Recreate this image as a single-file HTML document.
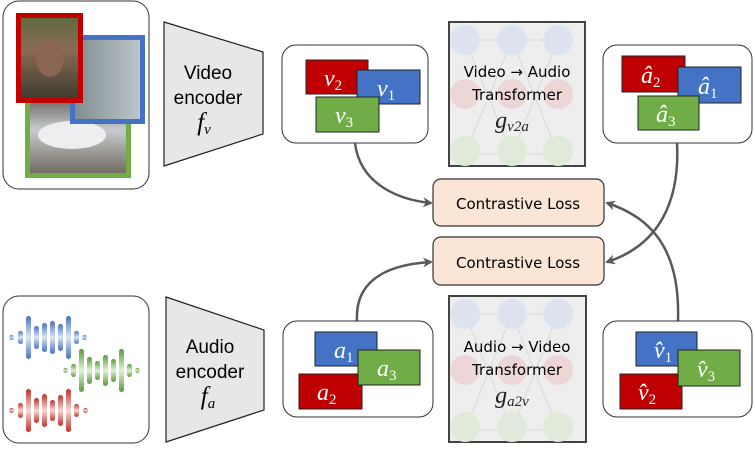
<!DOCTYPE html>
<html><head><meta charset="utf-8"><style>
body{margin:0;background:#fff;}
svg text{font-family:"Liberation Sans",sans-serif;}
.m{font-family:"Liberation Serif",serif;font-style:italic;fill:#fff;}
.c{font-family:"DejaVu Sans","Liberation Sans",sans-serif;}
</style></head><body>
<svg width="755" height="447" viewBox="0 0 755 447" xmlns="http://www.w3.org/2000/svg">
<defs>
<marker id="ar" markerWidth="10" markerHeight="10" refX="8" refY="5" orient="auto" markerUnits="userSpaceOnUse">
<path d="M0,0 L10,5 L0,10 L3,5 z" fill="#595959"/></marker>
<linearGradient id="gb" x1="0" y1="0" x2="0" y2="1"><stop offset="0" stop-color="#4a72c4"/><stop offset="0.5" stop-color="#dce6f5"/><stop offset="1" stop-color="#4a72c4"/></linearGradient>
<linearGradient id="gg" x1="0" y1="0" x2="0" y2="1"><stop offset="0" stop-color="#5a9a3a"/><stop offset="0.5" stop-color="#e2f0d9"/><stop offset="1" stop-color="#5a9a3a"/></linearGradient>
<linearGradient id="gr" x1="0" y1="0" x2="0" y2="1"><stop offset="0" stop-color="#c0312b"/><stop offset="0.5" stop-color="#f6d8d6"/><stop offset="1" stop-color="#c0312b"/></linearGradient>
<linearGradient id="car" x1="0" y1="0" x2="0" y2="1"><stop offset="0" stop-color="#6d6a63"/><stop offset="0.4" stop-color="#c9ccd0"/><stop offset="0.7" stop-color="#9a9893"/><stop offset="1" stop-color="#6f6760"/></linearGradient>
<linearGradient id="bld" x1="0" y1="0" x2="1" y2="0"><stop offset="0" stop-color="#7f8b8e"/><stop offset="1" stop-color="#bfc8cc"/></linearGradient>
<linearGradient id="face" x1="0" y1="0" x2="0" y2="1"><stop offset="0" stop-color="#5b6a3f"/><stop offset="0.4" stop-color="#8b6a55"/><stop offset="1" stop-color="#3b3a2e"/></linearGradient>
</defs>

<rect x="3" y="1" width="146" height="188" rx="16" fill="#fff" stroke="#333" stroke-width="1"/>
<rect x="27.5" y="99.5" width="101" height="76" fill="url(#car)" stroke="#70ad47" stroke-width="5"/>
<ellipse cx="72" cy="135" rx="34" ry="14" fill="#eceef0"/>
<rect x="72.5" y="37.5" width="70" height="84" fill="url(#bld)" stroke="#4472c4" stroke-width="5"/>
<rect x="18.5" y="15.5" width="62" height="85" fill="url(#face)" stroke="#c00000" stroke-width="5"/>
<ellipse cx="50" cy="58" rx="14" ry="19" fill="#8a6552"/>

<polygon points="164,22 263,52 263,134 164,166" fill="#e7e7e7" stroke="#222" stroke-width="1.2"/>
<text x="208" y="79" font-size="19" text-anchor="middle">Video</text>
<text x="208" y="104" font-size="19" text-anchor="middle">encoder</text>
<text x="204" y="130" font-size="25" text-anchor="middle" class="m" style="fill:#000">f<tspan font-size="15" dy="4">v</tspan></text>

<rect x="282" y="45" width="146" height="98" rx="14" fill="#fff" stroke="#333" stroke-width="1"/>
<rect x="306" y="60" width="62" height="34" fill="#c00000" stroke="#222"/>
<text x="324" y="86" font-size="24" class="m">v<tspan font-size="15" dy="4" font-style="normal">2</tspan></text>
<rect x="357" y="70" width="63" height="34" fill="#4472c4" stroke="#222"/>
<text x="377" y="96" font-size="24" class="m">v<tspan font-size="15" dy="4" font-style="normal">1</tspan></text>
<rect x="316" y="97" width="63" height="35" fill="#70ad47" stroke="#222"/>
<text x="335" y="123" font-size="24" class="m">v<tspan font-size="15" dy="4" font-style="normal">3</tspan></text>

<g>
<rect x="449" y="22" width="136" height="144" fill="#eeeeee" stroke="#444" stroke-width="2"/>
<g stroke="#d0d0d0" stroke-width="0.7">
<line x1="465" y1="40" x2="512" y2="154"/><line x1="465" y1="154" x2="512" y2="40"/><line x1="512" y1="40" x2="558" y2="154"/><line x1="512" y1="154" x2="558" y2="40"/>
<line x1="465" y1="40" x2="558" y2="40"/><line x1="465" y1="154" x2="558" y2="154"/></g>
<g fill="#dde3ee"><circle cx="465" cy="40" r="15"/><circle cx="512" cy="40" r="15"/><circle cx="558" cy="40" r="15"/></g>
<g fill="#ecd6d6"><circle cx="465" cy="94" r="15"/><circle cx="512" cy="94" r="15"/><circle cx="558" cy="94" r="15"/></g>
<g fill="#e0eadb"><circle cx="465" cy="151" r="15"/><circle cx="512" cy="151" r="15"/><circle cx="558" cy="151" r="15"/></g>
<text x="517" y="77" font-size="15" text-anchor="middle" class="c">Video → Audio</text>
<text x="517" y="100" font-size="15" text-anchor="middle" class="c">Transformer</text>
<text x="512" y="128" font-size="24" text-anchor="middle" class="m" style="fill:#222">g<tspan font-size="15" dy="3">v2a</tspan></text>
</g>

<rect x="603" y="45" width="149" height="98" rx="14" fill="#fff" stroke="#333" stroke-width="1"/>
<rect x="622" y="56" width="63" height="36" fill="#c00000" stroke="#222"/>
<text x="641" y="83" font-size="24" class="m">â<tspan font-size="15" dy="4" font-style="normal">2</tspan></text>
<rect x="678" y="67" width="63" height="36" fill="#4472c4" stroke="#222"/>
<text x="698" y="94" font-size="24" class="m">â<tspan font-size="15" dy="4" font-style="normal">1</tspan></text>
<rect x="638" y="96" width="61" height="34" fill="#70ad47" stroke="#222"/>
<text x="656" y="122" font-size="24" class="m">â<tspan font-size="15" dy="4" font-style="normal">3</tspan></text>

<rect x="433" y="179" width="171" height="47" rx="8" fill="#fbe5d6" stroke="#333" stroke-width="1.2"/>
<text x="518" y="209" font-size="15" text-anchor="middle" class="c">Contrastive Loss</text>
<rect x="433" y="237" width="171" height="48" rx="8" fill="#fbe5d6" stroke="#333" stroke-width="1.2"/>
<text x="518" y="268" font-size="15" text-anchor="middle" class="c">Contrastive Loss</text>

<g fill="none" stroke="#595959" stroke-width="2.5" marker-end="url(#ar)">
<path d="M355,143 C360,185 400,200 431,203"/>
<path d="M677,143 C680,200 660,245 607,262"/>
<path d="M357,321 C355,285 380,265 431,262"/>
<path d="M678,321 C680,260 660,220 607,203"/>
</g>

<rect x="3" y="296" width="146" height="147" rx="16" fill="#fff" stroke="#333" stroke-width="1"/>
<g fill="url(#gb)">
<rect x="9" y="335" width="5" height="5" rx="2.5"/><rect x="18" y="331" width="5" height="13" rx="2.5"/><rect x="26" y="316" width="5" height="43" rx="2.5"/><rect x="34" y="326" width="5" height="23" rx="2.5"/><rect x="42" y="323" width="5" height="29" rx="2.5"/><rect x="50" y="321" width="5" height="33" rx="2.5"/><rect x="58" y="324" width="5" height="27" rx="2.5"/><rect x="66" y="316" width="5" height="43" rx="2.5"/><rect x="74" y="331" width="5" height="13" rx="2.5"/><rect x="82" y="335" width="5" height="5" rx="2.5"/></g>
<g fill="url(#gg)">
<rect x="63" y="368" width="5" height="5" rx="2.5"/><rect x="71" y="364" width="5" height="13" rx="2.5"/><rect x="79" y="349" width="5" height="43" rx="2.5"/><rect x="87" y="357" width="5" height="27" rx="2.5"/><rect x="95" y="361" width="5" height="19" rx="2.5"/><rect x="103" y="355" width="5" height="31" rx="2.5"/><rect x="111" y="359" width="5" height="23" rx="2.5"/><rect x="119" y="349" width="5" height="43" rx="2.5"/><rect x="127" y="364" width="5" height="13" rx="2.5"/><rect x="135" y="368" width="5" height="5" rx="2.5"/></g>
<g fill="url(#gr)">
<rect x="9" y="408" width="5" height="5" rx="2.5"/><rect x="18" y="403" width="5" height="15" rx="2.5"/><rect x="26" y="389" width="5" height="43" rx="2.5"/><rect x="34" y="398" width="5" height="25" rx="2.5"/><rect x="42" y="394" width="5" height="33" rx="2.5"/><rect x="50" y="400" width="5" height="21" rx="2.5"/><rect x="58" y="395" width="5" height="31" rx="2.5"/><rect x="66" y="389" width="5" height="43" rx="2.5"/><rect x="74" y="404" width="5" height="13" rx="2.5"/><rect x="83" y="408" width="5" height="5" rx="2.5"/></g>

<polygon points="166,297 264,330 264,410 166,442" fill="#e7e7e7" stroke="#222" stroke-width="1.2"/>
<text x="210" y="353" font-size="19" text-anchor="middle">Audio</text>
<text x="210" y="378" font-size="19" text-anchor="middle">encoder</text>
<text x="208" y="404" font-size="25" text-anchor="middle" class="m" style="fill:#000">f<tspan font-size="15" dy="4">a</tspan></text>

<rect x="283" y="321" width="150" height="96" rx="14" fill="#fff" stroke="#333" stroke-width="1"/>
<rect x="315" y="332" width="62" height="34" fill="#4472c4" stroke="#222"/>
<text x="334" y="358" font-size="24" class="m">a<tspan font-size="15" dy="4" font-style="normal">1</tspan></text>
<rect x="299" y="374" width="63" height="35" fill="#c00000" stroke="#222"/>
<text x="317" y="400" font-size="24" class="m">a<tspan font-size="15" dy="4" font-style="normal">2</tspan></text>
<rect x="358" y="350" width="62" height="35" fill="#70ad47" stroke="#222"/>
<text x="377" y="376" font-size="24" class="m">a<tspan font-size="15" dy="4" font-style="normal">3</tspan></text>

<g>
<rect x="449" y="296" width="137" height="146" fill="#eeeeee" stroke="#444" stroke-width="2"/>
<g stroke="#d0d0d0" stroke-width="0.7">
<line x1="465" y1="314" x2="512" y2="430"/><line x1="465" y1="430" x2="512" y2="314"/><line x1="512" y1="314" x2="558" y2="430"/><line x1="512" y1="430" x2="558" y2="314"/>
<line x1="465" y1="314" x2="558" y2="314"/><line x1="465" y1="430" x2="558" y2="430"/></g>
<g fill="#dde3ee"><circle cx="465" cy="314" r="15"/><circle cx="512" cy="314" r="15"/><circle cx="558" cy="314" r="15"/></g>
<g fill="#ecd6d6"><circle cx="465" cy="370" r="15"/><circle cx="512" cy="370" r="15"/><circle cx="558" cy="370" r="15"/></g>
<g fill="#e0eadb"><circle cx="465" cy="427" r="15"/><circle cx="512" cy="427" r="15"/><circle cx="558" cy="427" r="15"/></g>
<text x="517" y="352" font-size="15" text-anchor="middle" class="c">Audio → Video</text>
<text x="517" y="375" font-size="15" text-anchor="middle" class="c">Transformer</text>
<text x="512" y="403" font-size="24" text-anchor="middle" class="m" style="fill:#222">g<tspan font-size="15" dy="3">a2v</tspan></text>
</g>

<rect x="603" y="321" width="149" height="96" rx="14" fill="#fff" stroke="#333" stroke-width="1"/>
<rect x="636" y="332" width="61" height="34" fill="#4472c4" stroke="#222"/>
<text x="654" y="358" font-size="24" class="m">v̂<tspan font-size="15" dy="4" font-style="normal">1</tspan></text>
<rect x="620" y="374" width="62" height="35" fill="#c00000" stroke="#222"/>
<text x="638" y="400" font-size="24" class="m">v̂<tspan font-size="15" dy="4" font-style="normal">2</tspan></text>
<rect x="678" y="350" width="62" height="36" fill="#70ad47" stroke="#222"/>
<text x="697" y="377" font-size="24" class="m">v̂<tspan font-size="15" dy="4" font-style="normal">3</tspan></text>
</svg>
</body></html>
